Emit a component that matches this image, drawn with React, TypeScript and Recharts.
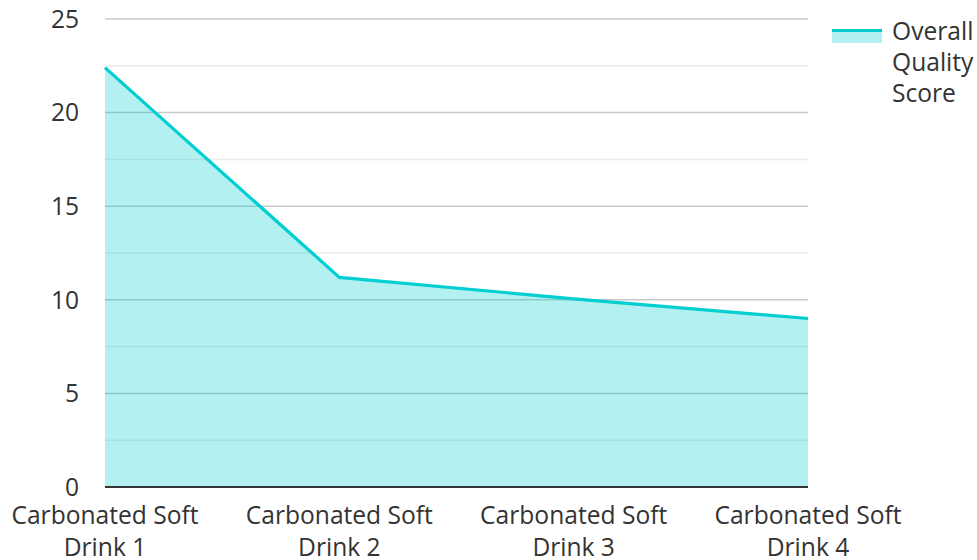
import { AreaChart, Area, CartesianGrid, XAxis, YAxis, Legend } from "recharts";

const categories = [
  "Carbonated Soft Drink 1",
  "Carbonated Soft Drink 2",
  "Carbonated Soft Drink 3",
  "Carbonated Soft Drink 4",
];
const qualityScores = [22.4, 11.2, 10.05, 9.0];
const yTicks = [0, 2.5, 5, 7.5, 10, 12.5, 15, 17.5, 20, 22.5, 25];

const data = categories.map((name, i) => ({ name, score: qualityScores[i] }));

const FONT = '"Open Sans", sans-serif';
const TEAL = "#00CED1";
const FS = 24.6;

const XTick = (props: any) => {
  const { x, y, payload } = props;
  const words = String(payload.value).split(" ");
  const first = words.slice(0, -2).join(" ");
  const second = words.slice(-2).join(" ");
  return (
    <text x={x} y={y} textAnchor="middle" fill="#333" fontSize={FS} fontFamily={FONT}>
      <tspan x={x} dy={29}>{first}</tspan>
      <tspan x={x} dy={32}>{second}</tspan>
    </text>
  );
};

const gridLine = (props: any) => (
  <line
    key={`grid-${props.index}`}
    x1={props.x1}
    y1={props.y1}
    x2={props.x2}
    y2={props.y2}
    stroke={props.index % 2 === 0 ? "#c8c8c8" : "#ebebeb"}
    strokeWidth={1.5}
  />
);

const LegendContent = (props: any) => {
  const item = props.payload && props.payload[0];
  return (
    <div
      style={{
        display: "flex",
        alignItems: "flex-start",
        fontFamily: FONT,
        fontSize: FS,
        lineHeight: "31px",
        color: "#333",
      }}
    >
      <svg width={50} height={14} style={{ marginTop: 14, flexShrink: 0 }}>
        <rect x={0} y={3} width={50} height={11} fill={TEAL} fillOpacity={0.3} />
        <line x1={0} y1={1.5} x2={50} y2={1.5} stroke={TEAL} strokeWidth={3} />
      </svg>
      <div style={{ marginLeft: 10, width: 85 }}>{item ? item.value : ""}</div>
    </div>
  );
};

export default function App() {
  return (
    <div style={{ position: "absolute", left: 0, top: 0 }}>
      <AreaChart
        width={977}
        height={560}
        data={data}
        margin={{ top: 19, right: 169, bottom: 0, left: 0 }}
        style={{ fontFamily: FONT }}
      >
        <CartesianGrid vertical={false} horizontal={gridLine} />
        <XAxis
          dataKey="name"
          interval={0}
          tickLine={false}
          axisLine={{ stroke: "#333", strokeWidth: 2 }}
          tick={<XTick />}
          height={73}
        />
        <YAxis
          domain={[0, 25]}
          ticks={yTicks}
          interval={0}
          width={105}
          axisLine={false}
          tickLine={false}
          tickMargin={20}
          tickFormatter={(v: number) => (v % 5 === 0 ? String(v) : "")}
          tick={{ fill: "#333", fontSize: FS, fontFamily: FONT }}
        />
        <Legend
          layout="vertical"
          align="center"
          verticalAlign="middle"
          wrapperStyle={{ left: 832, top: 15, width: 145 }}
          content={<LegendContent />}
        />
        <Area
          type="linear"
          dataKey="score"
          name="Overall Quality Score"
          stroke={TEAL}
          strokeWidth={3.2}
          fill={TEAL}
          fillOpacity={0.3}
          dot={false}
          activeDot={false}
          isAnimationActive={false}
        />
      </AreaChart>
    </div>
  );
}
